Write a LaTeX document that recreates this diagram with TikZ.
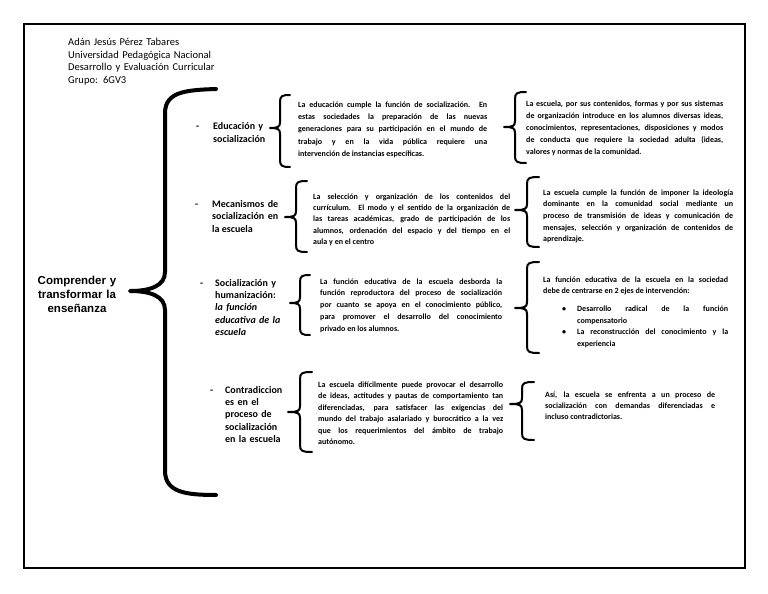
\documentclass[tikz,border=0pt]{standalone}
\usepackage{fontspec}
\setmainfont{Carlito}
\newfontfamily\arial{Liberation Sans}
\tikzset{
  txt/.style={inner sep=0pt,anchor=north west,execute at begin node={\parindent=0pt\strut}},
  blk/.style 2 args={txt,text width=#1,align=justify,font=\bfseries\fontsize{8}{#2}\selectfont},
  topic/.style={txt,text width=80pt,align=left,font=\bfseries\fontsize{10}{12.3}\selectfont},
  brc/.style={line width=2pt,line cap=round,line join=round}
}
% small curly bracket: spine x, top, tip, bottom, arm
\newcommand{\llave}[5]{%
  \draw[brc] ({#1+#5},#2) .. controls ({#1+2},#2) and (#1,{#2+1}) .. (#1,{#2+7})
    -- (#1,{#3-6}) .. controls (#1,{#3-1}) and ({#1-2},#3) .. ({#1-#5},#3)
    .. controls ({#1-2},#3) and (#1,{#3+1}) .. (#1,{#3+6})
    -- (#1,{#4-7}) .. controls (#1,{#4-1}) and ({#1+2},#4) .. ({#1+#5},#4);}
\begin{document}
\begin{tikzpicture}[x=1pt,y=-1pt]
	\fill[white] (0,0) rectangle (768,594);
	\useasboundingbox (0,0) rectangle (768,594);

	% Frame
	\draw[line width=2pt] (24,24) rectangle (745,568);

	% Header
	\node[txt,text width=200pt,align=left,font=\fontsize{10.5}{12.5}\selectfont] (hdr) at (68,36.8) {Adán Jesús Pérez Tabares\\Universidad Pedagógica Nacional\\Desarrollo y Evaluación Curricular\\Grupo: 6GV3};

	% Main topic and big bracket
	\node[inner sep=0pt,anchor=north,text width=100pt,align=center,font=\arial\bfseries\fontsize{11.5}{14}\selectfont,execute at begin node=\strut] (main) at (77,274.2) {Comprender y\\transformar la\\enseñanza};
	\draw[line width=4pt,line cap=round,line join=round] (216,89) .. controls (185,90) and (166,92) .. (165,112) -- (165,272) .. controls (165,286) and (150,291) .. (130,291) .. controls (150,291) and (165,296) .. (165,310) -- (165,472) .. controls (166,492) and (185,495) .. (216,495);

	% Topics
	\node[topic] (t1) at (213,120.9) {\llap{-\hspace{14pt}}Educación y\\socialización};
	\node[topic,text width=66pt,align=justify] (t2) at (212,198.6) {\llap{-\hspace{14pt}}Mecanismos de\linebreak socialización en\linebreak la escuela};
	\node[topic] (t3) at (215,277.5) {\llap{-\hspace{12pt}}Socialización y\\humanización:\\{\itshape la función\\educativa de la\\escuela}};
	\node[topic] (t4) at (225,384.3) {\llap{-\hspace{12pt}}Contradiccion\\es en el\\proceso de\\socialización\\en la escuela};

	% Row 1
	\llave{280}{95}{128}{167}{10}
	\node[blk={189pt}{12.3pt}] (a1) at (298,98.4) {La educación cumple la función de socialización. En\linebreak estas sociedades la preparación de las nuevas\linebreak generaciones para su participación en el mundo de\linebreak trabajo y en la vida pública requiere una\linebreak intervención de instancias específicas.};
	\llave{515}{92}{127}{163}{11}
	\node[blk={197pt}{12pt}] (b1) at (526,97.6) {La escuela, por sus contenidos, formas y por sus sistemas\linebreak de organización introduce en los alumnos diversas ideas,\linebreak conocimientos, representaciones, disposiciones y modos\linebreak de conducta que requiere la sociedad adulta (ideas,\linebreak valores y normas de la comunidad.};

	% Row 2
	\llave{296}{181}{217}{252}{11}
	\node[blk={197pt}{11.3pt}] (a2) at (313,191.1) {La selección y organización de los contenidos del\linebreak currículum. El modo y el sentido de la organización de\linebreak las tareas académicas, grado de participación de los\linebreak alumnos, ordenación del espacio y del tiempo en el\linebreak aula y en el centro};
	\llave{527}{177}{210}{247}{12}
	\node[blk={190pt}{11.7pt}] (b2) at (543,186.8) {La escuela cumple la función de imponer la ideología\linebreak dominante en la comunidad social mediante un\linebreak proceso de transmisión de ideas y comunicación de\linebreak mensajes, selección y organización de contenidos de\linebreak aprendizaje.};

	% Row 3
	\llave{300}{275}{303}{335}{10}
	\node[blk={182pt}{11.8pt}] (a3) at (320,275.7) {La función educativa de la escuela desborda la\linebreak función reproductora del proceso de socialización\linebreak por cuanto se apoya en el conocimiento público,\linebreak para promover el desarrollo del conocimiento\linebreak privado en los alumnos.};
	\llave{527}{262}{308}{353}{12}
	\node[blk={185pt}{11.7pt}] (b3) at (543,273.8) {La función educativa de la escuela en la sociedad\linebreak debe de centrarse en 2 ejes de intervención:\par\vspace{6pt}
	\hangindent=34pt\hangafter=0\noindent\llap{\textbullet\hspace{11pt}}Desarrollo radical de la función\linebreak compensatorio\par
	\hangindent=34pt\hangafter=0\noindent\llap{\textbullet\hspace{11pt}}La reconstrucción del conocimiento y la\linebreak experiencia\par};

	% Row 4
	\llave{300}{372}{412}{452}{12}
	\node[blk={185pt}{11.5pt}] (a4) at (318,379) {La escuela difícilmente puede provocar el desarrollo\linebreak de ideas, actitudes y pautas de comportamiento tan\linebreak diferenciadas, para satisfacer las exigencias del\linebreak mundo del trabajo asalariado y burocrático a la vez\linebreak que los requerimientos del ámbito de trabajo\linebreak autónomo.};
	\llave{522}{382}{404}{440}{12}
	\node[blk={170pt}{11pt}] (b4) at (545,389.3) {Así, la escuela se enfrenta a un proceso de\linebreak socialización con demandas diferenciadas e\linebreak incluso contradictorias.};

\end{tikzpicture}
\end{document}
